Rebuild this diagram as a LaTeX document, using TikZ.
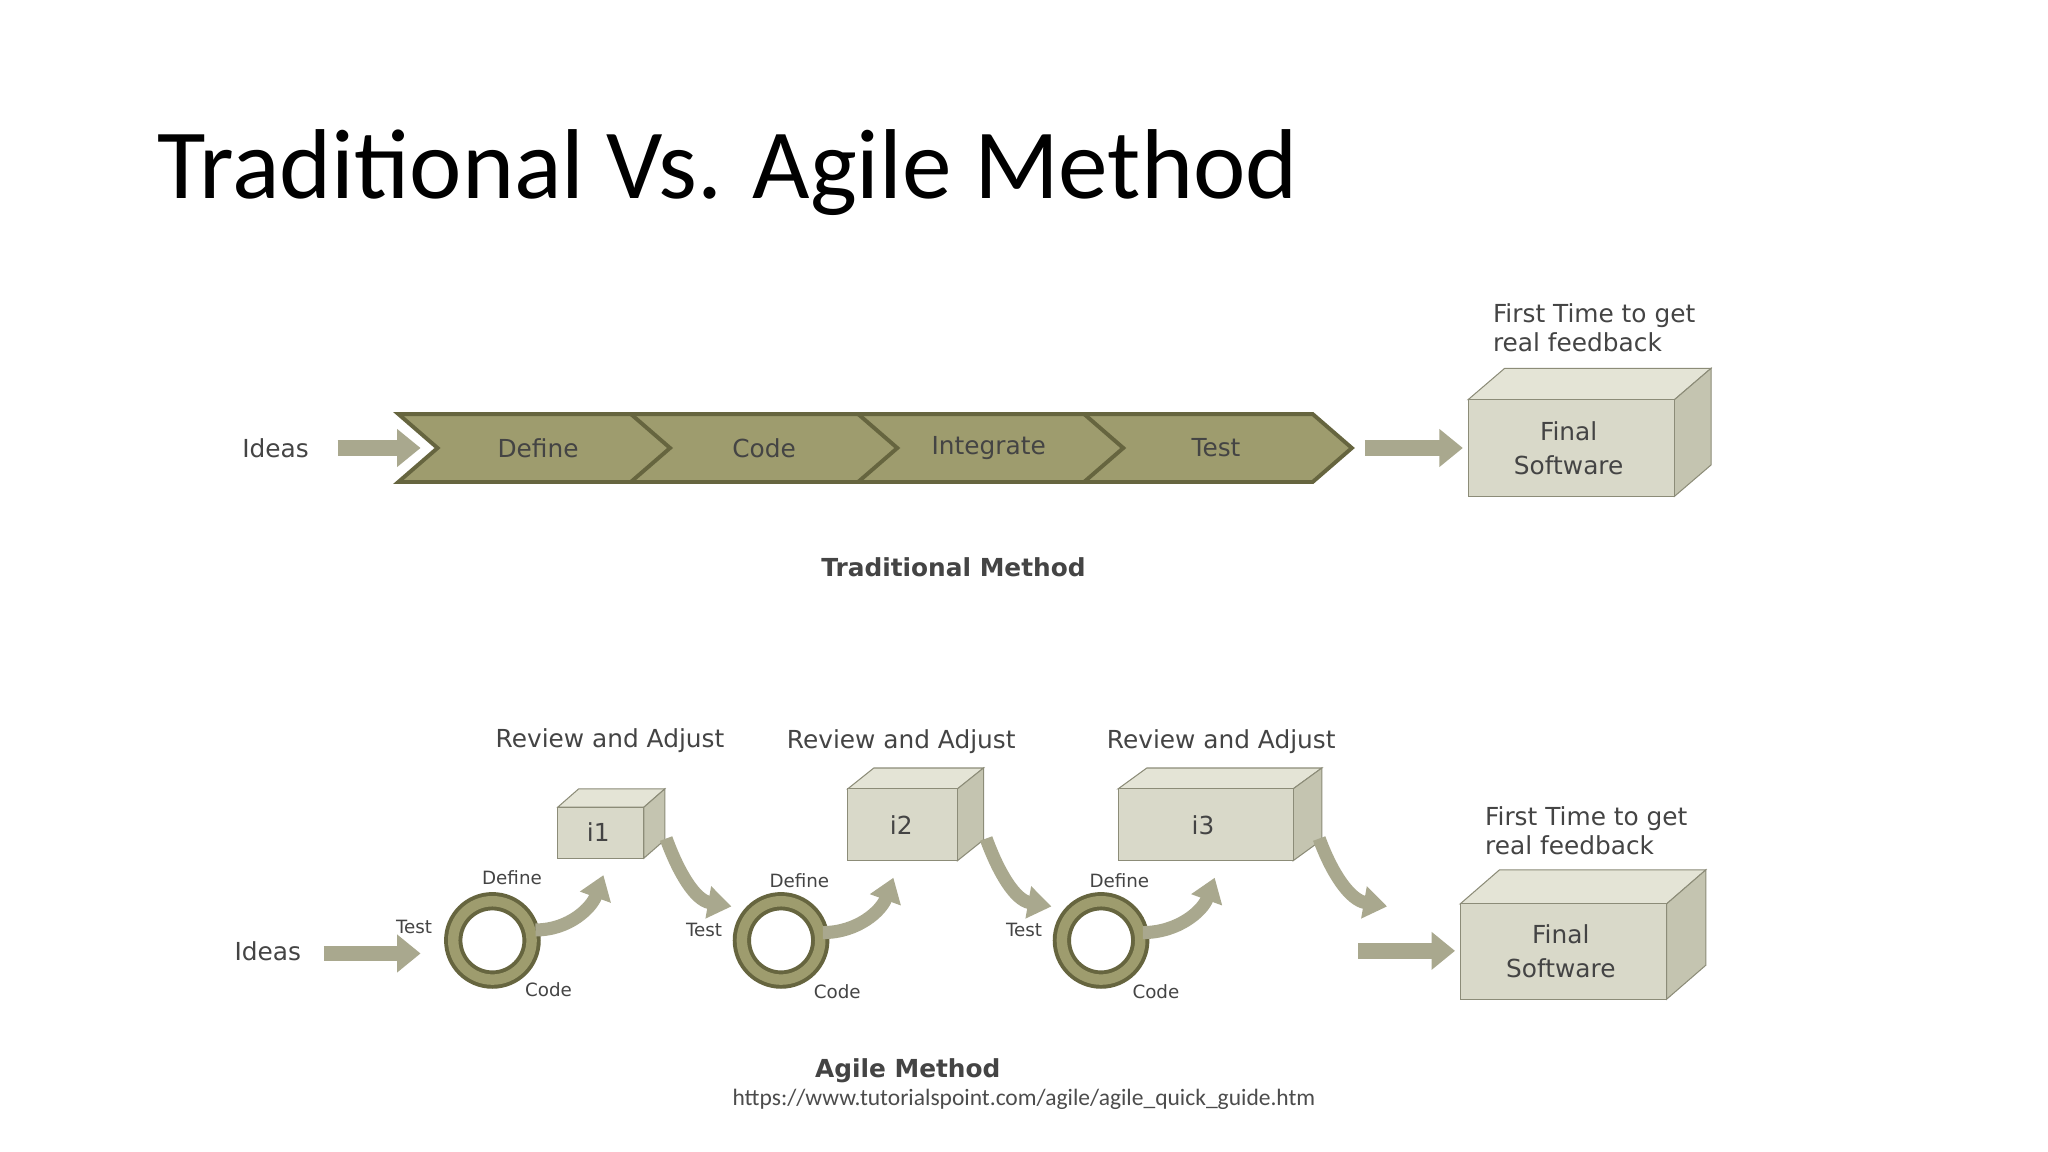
\documentclass[tikz,border=0pt]{standalone}
\usepackage{fontspec}
\setmainfont{DejaVu Sans}
\newfontfamily\calib{Carlito}
\usetikzlibrary{arrows.meta}
\definecolor{olive}{HTML}{9E9C6E}
\definecolor{darkol}{HTML}{66653F}
\definecolor{arr}{HTML}{A9A88E}
\definecolor{boxf}{HTML}{D9D9C9}
\definecolor{boxs}{HTML}{C4C4B0}
\definecolor{boxt}{HTML}{E4E4D6}
\definecolor{boxb}{HTML}{8C8C78}
\definecolor{txt}{HTML}{444444}
\newcommand\mycube[6]{% x1 y1 x2 y2 dx dy, name
  \fill[boxt,draw=boxb] (#1,#2) -- ++(#5,-#6) -- (#3+#5,#2-#6) -- (#3,#2) -- cycle;
  \fill[boxs,draw=boxb] (#3,#2) -- (#3+#5,#2-#6) -- (#3+#5,#4-#6) -- (#3,#4) -- cycle;
  \fill[boxf,draw=boxb] (#1,#2) rectangle (#3,#4);}
\tikzset{
  flow/.style={draw=arr,line width=6pt,-{Triangle[length=9pt,width=14pt]}},
  curvy/.style={draw=arr,line width=5pt,-{Triangle[length=9pt,width=12pt]}},
  lab/.style={text=txt,font=\fontsize{9.5}{11}\selectfont},
  small/.style={text=txt,font=\fontsize{7}{8}\selectfont},
  seg/.style={text=txt,font=\fontsize{9.5}{11}\selectfont},
}
\begin{document}
\begin{tikzpicture}[x=0.5pt,y=-0.5pt]
\useasboundingbox (0,0) rectangle (1568,882);
\fill[white] (0,0) rectangle (1568,882);
\node[anchor=base west,font=\calib\fontsize{38}{40}\selectfont,inner sep=0] (title) at (120,152) {Traditional Vs. Agile Method};
% traditional
\node[lab] (ideasT) at (211,343) {Ideas};
\coordinate (chS) at (322,343);
\fill[olive,draw=darkol,line width=1.5pt] (305,317) -- (1005,317) -- (1035,343) -- (1005,369) -- (305,369) -- (335,343) -- cycle;
\foreach \x in {483,657,830} \draw[darkol,line width=1.5pt] (\x,317) -- (\x+30,343) -- (\x,369);
\node[seg] (dT) at (412,343) {Define};
\node[seg] (cT) at (585,343) {Code};
\node[seg] (iT) at (757,343) {Integrate};
\node[seg] (tT) at (931,343) {Test};
\draw[flow] (ideasT.east)++(15,0) -- (chS);
\coordinate (chE) at (1045,343);
\mycube{1124}{306}{1282}{380}{28}{24}
\node[lab,align=center] (fsT) at (1201,343) {Final\\[2pt]Software};
\draw[flow] (chE) -- (fsT.west -| 1120,343);
\node[lab,anchor=west,align=left] (ftT) at (1136,251) {First Time to get\\real feedback};
\node[font=\bfseries\fontsize{9.5}{11}\selectfont,text=txt] (tm) at (730,434) {Traditional Method};
% agile
\node[lab] (ideasA) at (205,728) {Ideas};
\draw[flow] (248,730) -- (322,730);
\foreach \cx/\n in {377/1,598/2,843/3}{
  \draw[darkol,line width=7pt] (\cx,720) circle (30);
  \draw[olive,line width=4pt] (\cx,720) circle (30);
  \coordinate (c\n) at (\cx,720);
}
\node[small] (t1) at (317,710) {Test};
\node[small] (d1) at (392,672) {Define};
\node[small] (k1) at (420,758) {Code};
\node[small] (t2) at (539,712) {Test};
\node[small] (d2) at (612,674) {Define};
\node[small] (k2) at (641,759) {Code};
\node[small] (t3) at (784,712) {Test};
\node[small] (d3) at (857,674) {Define};
\node[small] (k3) at (885,759) {Code};
\mycube{427}{618}{493}{657}{16}{14}
\node[lab] (i1) at (458,637) {i1};
\mycube{649}{604}{733}{659}{20}{16}
\node[lab] (i2) at (690,632) {i2};
\mycube{856}{604}{990}{659}{22}{16}
\node[lab] (i3) at (921,632) {i3};
\node[lab] (r1) at (467,567) {Review and Adjust};
\node[lab] (r2) at (690,568) {Review and Adjust};
\node[lab] (r3) at (935,568) {Review and Adjust};
\draw[curvy] (410,712) to[out=0,in=-110] (462,670);
\draw[curvy] (630,714) to[out=0,in=-110] (684,672);
\draw[curvy] (875,714) to[out=0,in=-110] (930,672);
\draw[curvy] (510,642) to[out=-70,in=170] (560,694);
\draw[curvy] (755,642) to[out=-70,in=170] (805,694);
\draw[curvy] (1010,642) to[out=-70,in=170] (1062,694);
\mycube{1118}{692}{1276}{765}{30}{26}
\node[lab,align=center] (fsA) at (1195,728) {Final\\[2pt]Software};
\draw[flow] (1040,728) -- (1114,728);
\node[lab,anchor=west,align=left] (ftA) at (1130,636) {First Time to get\\real feedback};
\node[font=\bfseries\fontsize{9.5}{11}\selectfont,text=txt] (am) at (695,820) {Agile Method};
\node[font=\calib\fontsize{9}{10}\selectfont,text=black!70] (url) at (784,842) {https://www.tutorialspoint.com/agile/agile\_quick\_guide.htm};
\end{tikzpicture}
\end{document}
